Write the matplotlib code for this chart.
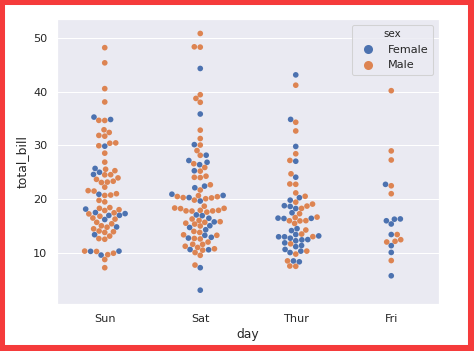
import matplotlib
matplotlib.use("Agg")
import matplotlib.pyplot as plt
from matplotlib.patches import Rectangle
import pandas as pd
import seaborn as sns

days = ["Sun", "Sat", "Thur", "Fri"]
sexes = ["Female", "Male"]

sun_female = [16.99, 24.59, 35.26, 14.83, 10.33, 16.97, 10.29, 34.81, 25.71, 17.31,
              29.85, 25.00, 13.39, 16.21, 17.51, 9.60, 20.90, 18.15]
sun_male = [10.34, 21.01, 23.68, 25.29, 8.77, 26.88, 15.04, 14.78, 10.27, 15.42,
            18.43, 21.58, 16.29, 17.46, 13.94, 9.68, 30.40, 18.29, 22.23, 32.40,
            28.55, 18.04, 12.54, 9.94, 25.56, 19.49, 38.07, 23.95, 29.93, 14.07,
            13.13, 17.26, 24.55, 19.77, 48.17, 16.49, 21.50, 12.66, 13.81, 24.52,
            20.76, 31.71, 7.25, 31.85, 16.82, 32.90, 17.89, 14.48, 34.63, 34.65,
            23.33, 45.35, 23.17, 40.55, 20.69, 30.46, 23.10, 15.69]
sat_female = [20.29, 15.77, 19.65, 15.06, 20.69, 16.93, 26.41, 16.45, 3.07, 17.07,
              26.86, 25.28, 14.73, 44.30, 22.42, 20.92, 14.31, 7.25, 10.59, 10.63,
              12.76, 13.27, 28.17, 12.90, 30.14, 22.12, 35.83, 27.18]
sat_male = [20.65, 17.92, 39.42, 19.82, 17.81, 13.37, 12.69, 21.70, 9.55, 18.35,
            17.78, 24.06, 16.31, 18.69, 31.27, 16.04, 38.01, 11.24, 48.27, 20.29,
            13.81, 11.02, 18.29, 17.59, 20.08, 20.23, 15.01, 12.02, 10.51, 17.92,
            15.36, 20.49, 25.21, 18.24, 14.00, 50.81, 15.81, 26.59, 38.73, 24.27,
            30.06, 25.89, 48.33, 28.15, 11.59, 7.74, 20.45, 13.28, 24.01, 15.69,
            11.61, 10.77, 15.53, 10.07, 12.60, 32.83, 29.03, 22.67, 17.82]
thur_female = [10.07, 34.83, 10.65, 12.43, 24.08, 13.42, 12.48, 29.80, 14.52, 11.38,
               20.27, 11.17, 12.26, 18.26, 8.51, 10.33, 14.15, 13.16, 17.47, 27.05,
               16.43, 8.35, 18.64, 11.87, 19.81, 43.11, 13.00, 12.74, 13.00, 16.40,
               16.47, 18.78]
thur_male = [27.20, 22.76, 17.29, 19.44, 16.66, 32.68, 15.98, 13.03, 18.28, 24.71,
             21.16, 11.69, 14.26, 15.95, 8.52, 22.82, 19.08, 16.00, 34.30, 41.19,
             9.78, 7.51, 28.44, 15.48, 16.58, 7.56, 10.34, 13.51, 18.71, 20.53]
fri_female = [5.75, 16.32, 22.75, 11.35, 15.38, 13.42, 15.98, 16.27, 10.09]
fri_male = [28.97, 22.49, 40.17, 27.28, 12.03, 21.01, 12.46, 12.16, 8.58, 13.42]

groups = {
    ("Sun", "Female"): sun_female, ("Sun", "Male"): sun_male,
    ("Sat", "Female"): sat_female, ("Sat", "Male"): sat_male,
    ("Thur", "Female"): thur_female, ("Thur", "Male"): thur_male,
    ("Fri", "Female"): fri_female, ("Fri", "Male"): fri_male,
}
rows = []
for (day, sex), bills in groups.items():
    for b in bills:
        rows.append({"day": day, "sex": sex, "total_bill": b})
tips = pd.DataFrame(rows)

sns.set_theme(style="darkgrid")

W, H, DPI = 474, 351, 74
fig = plt.figure(figsize=(W / DPI, H / DPI), dpi=DPI)
ax = fig.add_axes([57 / W, 1 - 304 / H, (439 - 57) / W, (304 - 19) / H])

sns.swarmplot(data=tips, x="day", y="total_bill", hue="sex",
              order=days, hue_order=sexes, size=5.5, ax=ax)
ax.set_ylim(0.5, 53.5)
ax.legend(title="sex", loc="upper right", markerscale=1.6,
          title_fontsize=10, fontsize=11)

# red frame around the picture
for x0, y0, w, h in [(0, 0, 4, H), (W - 6, 0, 6, H), (0, 0, W, 6), (0, H - 4, W, 4)]:
    fig.patches.append(Rectangle((x0 / W, y0 / H), w / W, h / H,
                                 transform=fig.transFigure, color="#f53b3b",
                                 zorder=10))

fig.savefig("out.png", dpi=DPI)
